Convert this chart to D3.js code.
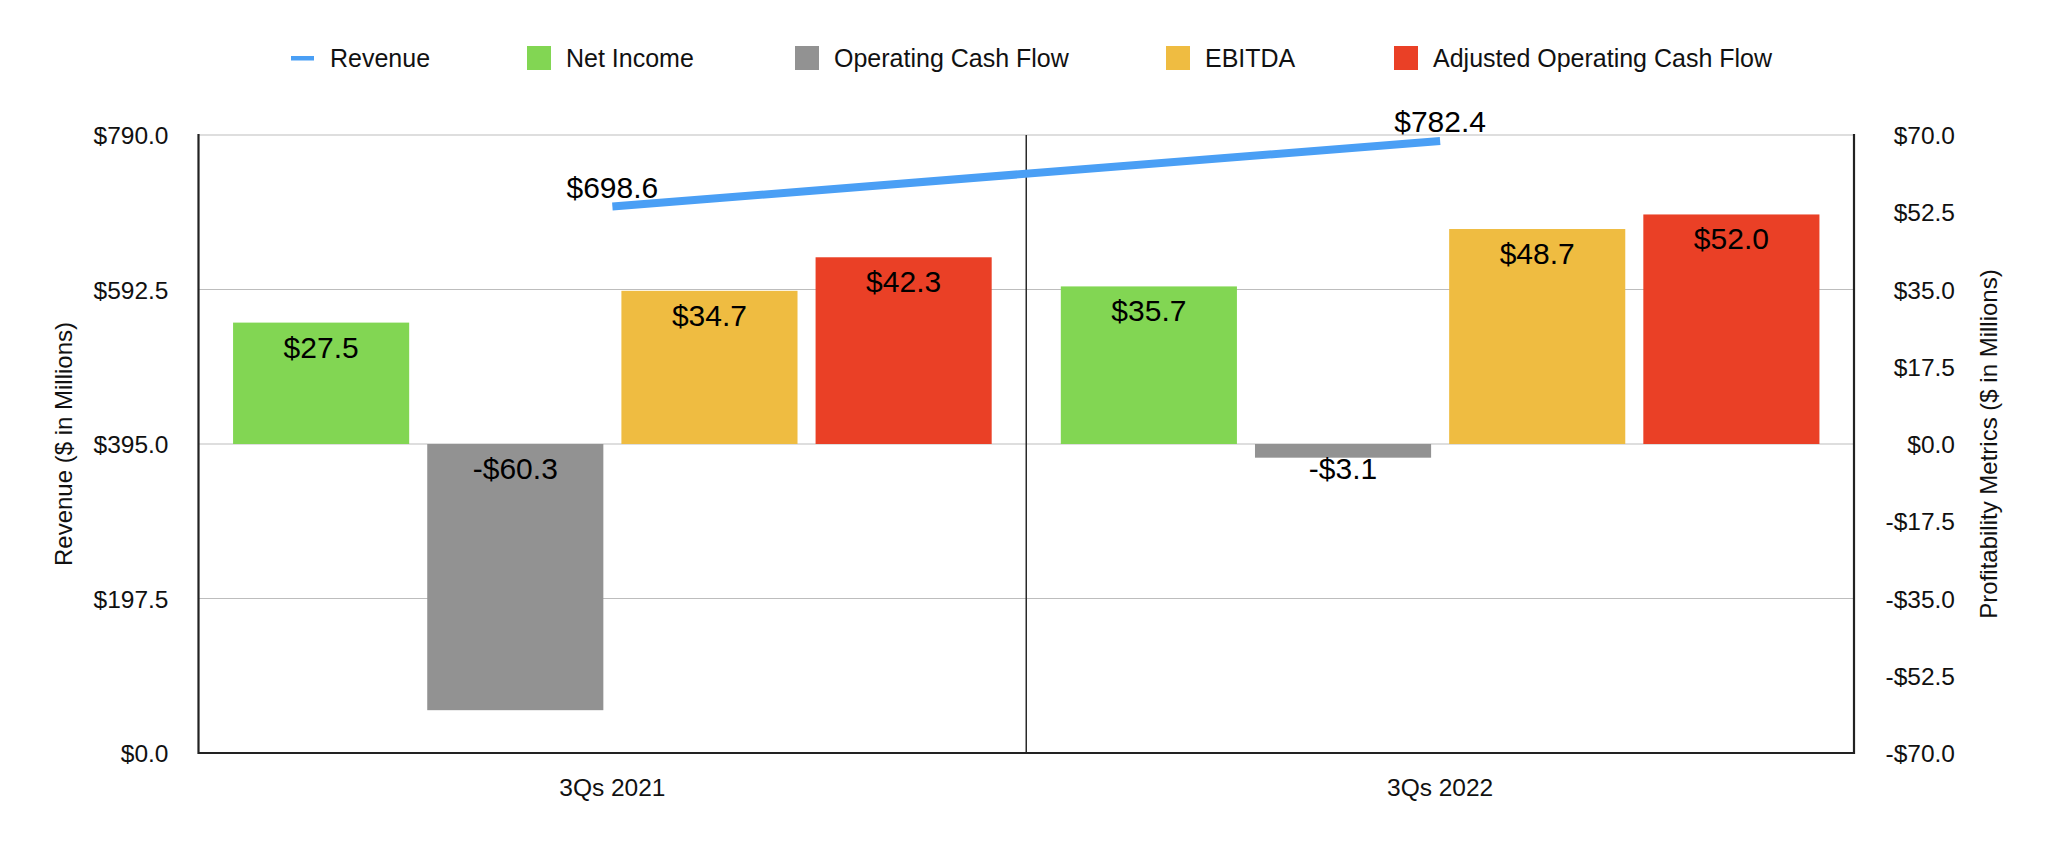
<!DOCTYPE html>
<html>
<head>
<meta charset="utf-8">
<script src="https://cdn.jsdelivr.net/npm/d3@7"></script>
<style>
  html, body { margin: 0; padding: 0; background: #fff; }
  svg { display: block; font-family: "Liberation Sans", Arial, Helvetica, sans-serif; }
</style>
</head>
<body>
<svg id="chart" width="2058" height="858"></svg>
<script>
// ---- data ----
const categories = ["3Qs 2021", "3Qs 2022"];
const revenue = [698.6, 782.4];
const netIncome = [27.5, 35.7];
const operatingCashFlow = [-60.3, -3.1];
const ebitda = [34.7, 48.7];
const adjustedOperatingCashFlow = [42.3, 52.0];
const seriesNames = ["Net Income", "Operating Cash Flow", "EBITDA", "Adjusted Operating Cash Flow"];
const leftTicks = [0, 197.5, 395, 592.5, 790];
const rightTicks = [-70, -52.5, -35, -17.5, 0, 17.5, 35, 52.5, 70];
const leftTitle = "Revenue ($ in Millions)";
const rightTitle = "Profitability Metrics ($ in Millions)";

// ---- layout / style ----
const colors = {
  "Revenue": "#4a9ff5",
  "Net Income": "#82d653",
  "Operating Cash Flow": "#929292",
  "EBITDA": "#efbc41",
  "Adjusted Operating Cash Flow": "#ea4026"
};
const barSeries = [netIncome, operatingCashFlow, ebitda, adjustedOperatingCashFlow];
const plot = { left: 198.5, right: 1854, top: 135, bottom: 753 };

const svg = d3.select("#chart");
const fmt = v => (v < 0 ? "-$" : "$") + Math.abs(v).toFixed(1);

const x = d3.scaleBand().domain(categories).range([plot.left, plot.right]).padding(0);
const xInner = d3.scaleBand().domain(seriesNames).range([0, x.bandwidth()])
  .paddingInner(0.093).paddingOuter(0.178);
const yL = d3.scaleLinear().domain([0, 790]).range([plot.bottom, plot.top]);
const yR = d3.scaleLinear().domain([-70, 70]).range([plot.bottom, plot.top]);

// gridlines
svg.append("g").selectAll("line").data(leftTicks).join("line")
  .attr("x1", plot.left).attr("x2", plot.right)
  .attr("y1", d => yL(d)).attr("y2", d => yL(d))
  .attr("stroke", "#bdbdbd").attr("stroke-width", 1.2);

// bars
const barData = [];
categories.forEach((c, i) => {
  seriesNames.forEach((s, j) => barData.push({ cat: c, series: s, value: barSeries[j][i] }));
});
const bars = svg.append("g");
bars.selectAll("rect").data(barData).join("rect")
  .attr("x", d => x(d.cat) + xInner(d.series))
  .attr("width", xInner.bandwidth())
  .attr("y", d => yR(Math.max(0, d.value)))
  .attr("height", d => Math.abs(yR(d.value) - yR(0)))
  .attr("fill", d => colors[d.series]);
bars.selectAll("text").data(barData).join("text")
  .attr("x", d => x(d.cat) + xInner(d.series) + xInner.bandwidth() / 2)
  .attr("y", d => yR(Math.max(0, d.value)) + 35)
  .attr("text-anchor", "middle")
  .attr("font-size", 30)
  .attr("fill", "#000")
  .text(d => fmt(d.value));

// divider between categories
svg.append("line")
  .attr("x1", x(categories[1])).attr("x2", x(categories[1]))
  .attr("y1", plot.top).attr("y2", plot.bottom)
  .attr("stroke", "#2a2a2a").attr("stroke-width", 1.5);

// revenue line
const revPts = categories.map((c, i) => ({ c, v: revenue[i] }));
svg.append("path").datum(revPts)
  .attr("d", d3.line().x(d => x(d.c) + x.bandwidth() / 2).y(d => yL(d.v)))
  .attr("fill", "none").attr("stroke", colors["Revenue"]).attr("stroke-width", 8);
svg.append("g").selectAll("text").data(revPts).join("text")
  .attr("x", d => x(d.c) + x.bandwidth() / 2)
  .attr("y", d => yL(d.v) - 9)
  .attr("text-anchor", "middle").attr("font-size", 30).attr("fill", "#000")
  .text(d => fmt(d.v));

// axes
const axL = svg.append("g").attr("transform", `translate(${plot.left},0)`)
  .call(d3.axisLeft(yL).tickValues(leftTicks).tickSize(0).tickPadding(30).tickFormat(fmt));
axL.select(".domain").remove();
axL.selectAll("text").attr("font-size", 24.5).attr("fill", "#111").attr("font-family", null).attr("dy", "0.35em");

const axR = svg.append("g").attr("transform", `translate(${plot.right},0)`)
  .call(d3.axisRight(yR).tickValues(rightTicks).tickSize(0).tickPadding(101).tickFormat(fmt));
axR.select(".domain").remove();
axR.selectAll("text").attr("font-size", 24.5).attr("fill", "#111").attr("font-family", null)
  .attr("text-anchor", "end").attr("dy", "0.35em");

const axB = svg.append("g").attr("transform", `translate(0,${plot.bottom})`)
  .call(d3.axisBottom(x).tickSize(0).tickPadding(26));
axB.select(".domain").remove();
axB.selectAll("text").attr("font-size", 24.5).attr("fill", "#111").attr("font-family", null).attr("dy", "0.71em");

// frame lines (left, bottom, right axes)
svg.append("path")
  .attr("d", `M${plot.left},${plot.top - 1}V${plot.bottom}H${plot.right}V${plot.top - 1}`)
  .attr("fill", "none").attr("stroke", "#222").attr("stroke-width", 2.2);

// axis titles
svg.append("text")
  .attr("transform", `translate(63,${(plot.top + plot.bottom) / 2}) rotate(-90)`)
  .attr("text-anchor", "middle").attr("dominant-baseline", "central")
  .attr("font-size", 24).attr("fill", "#111").text(leftTitle);
svg.append("text")
  .attr("transform", `translate(1988,${(plot.top + plot.bottom) / 2}) rotate(-90)`)
  .attr("text-anchor", "middle").attr("dominant-baseline", "central")
  .attr("font-size", 24).attr("fill", "#111").text(rightTitle);

// legend
const legendItems = ["Revenue"].concat(seriesNames);
const legendX = [291, 527, 795, 1166, 1394];
const legendY = 58;
const lg = svg.append("g");
legendItems.forEach((name, i) => {
  const g = lg.append("g").attr("transform", `translate(${legendX[i]},${legendY})`);
  if (name === "Revenue") {
    g.append("rect").attr("x", 0).attr("y", -2).attr("width", 23).attr("height", 4.5).attr("fill", colors[name]);
  } else {
    g.append("rect").attr("x", 0).attr("y", -12).attr("width", 24).attr("height", 24).attr("fill", colors[name]);
  }
  g.append("text").attr("x", 39).attr("dy", "0.35em").attr("font-size", 25).attr("fill", "#111").text(name);
});
</script>
</body>
</html>
